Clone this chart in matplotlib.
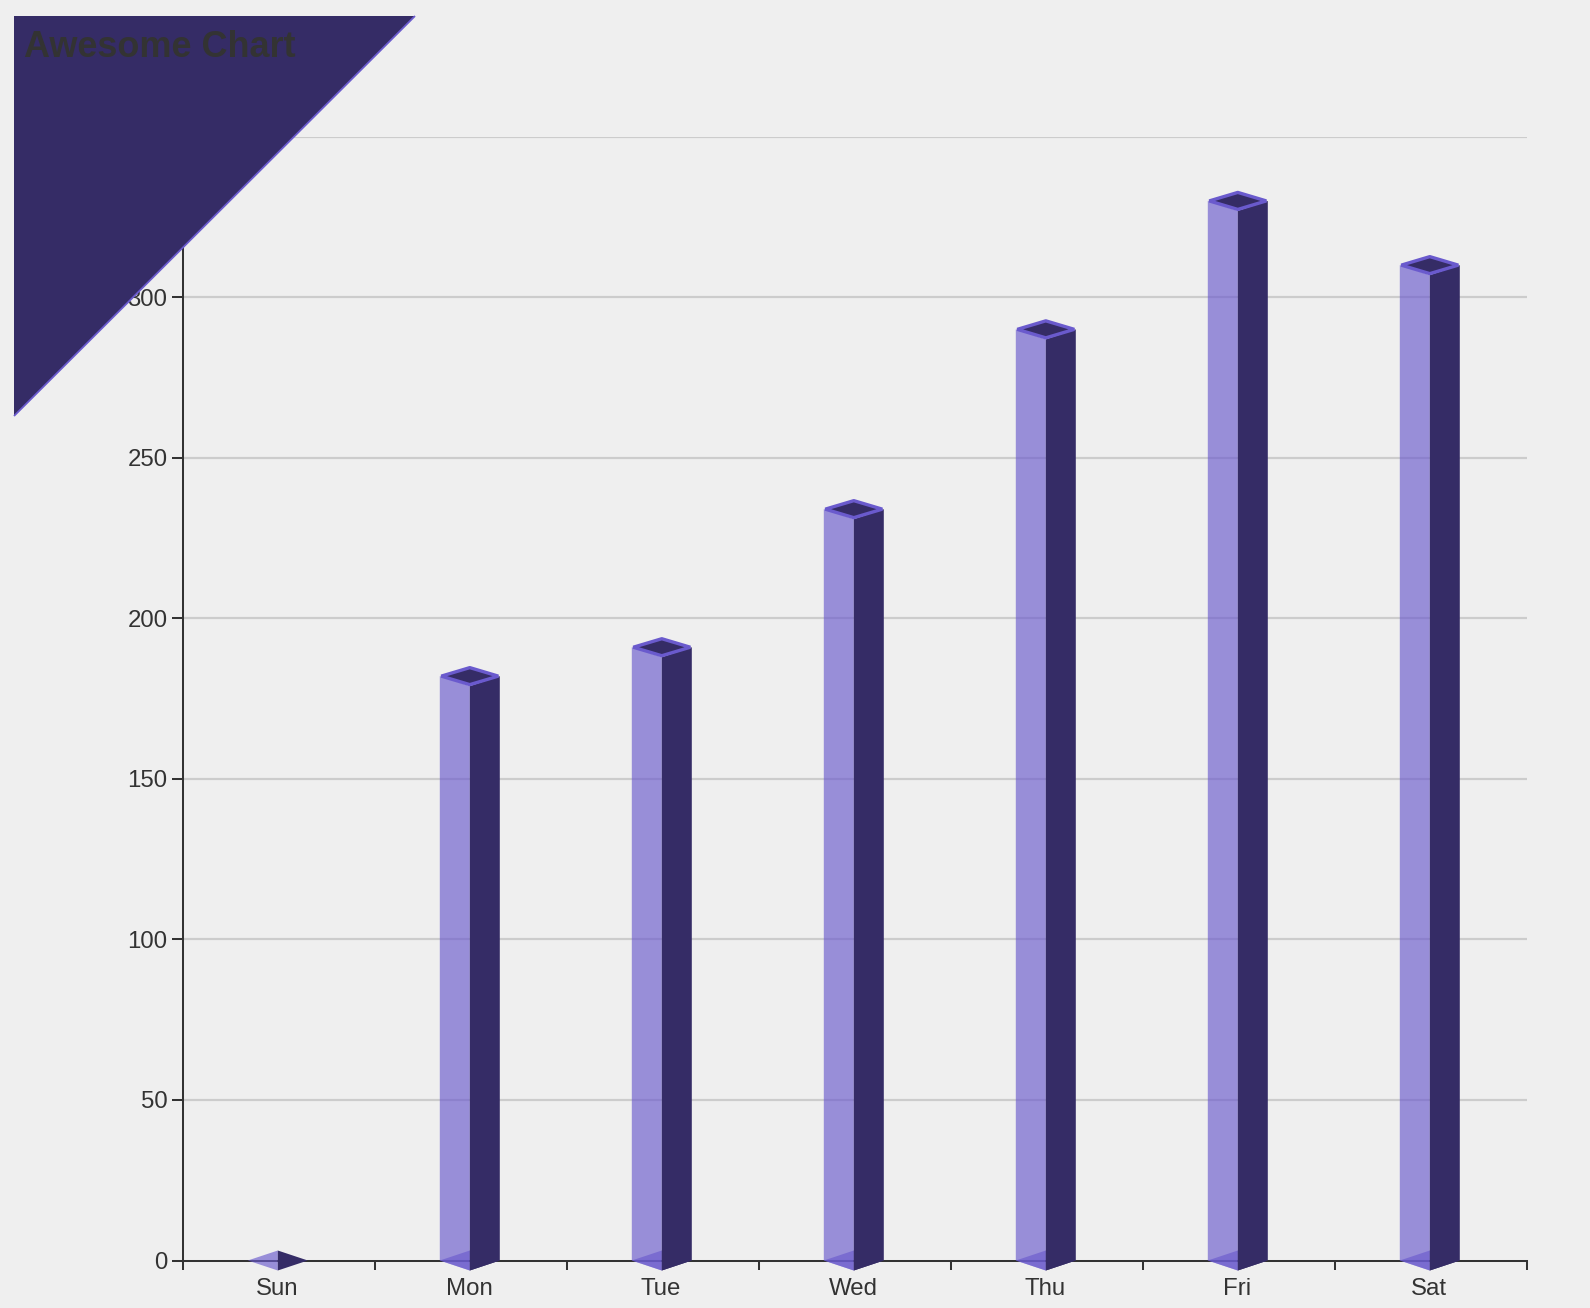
import matplotlib
matplotlib.use("Agg")
import matplotlib.pyplot as plt
from matplotlib.lines import Line2D
from matplotlib.patches import Polygon

categories = ["Sun", "Mon", "Tue", "Wed", "Thu", "Fri", "Sat"]
values = [0, 182, 191, 234, 290, 330, 310]
y_ticks = [0, 50, 100, 150, 200, 250, 300, 350]
title = "Awesome Chart"

W, H = 1590, 1308
BG = "#efefef"
TEXT = "#333333"
SLATE = "#6a5acd"
DARK = "#352c66"
GRID = "#cccccc"
plt.rcParams["font.family"] = ["Liberation Sans", "DejaVu Sans"]

fig = plt.figure(figsize=(W / 100, H / 100), dpi=100, facecolor=BG)
L, R, T, B = 183, 1527, 136.7, 1260.5
ax = fig.add_axes([L / W, 1 - B / H, (R - L) / W, (B - T) / H], facecolor=BG)
ax.set_xlim(-0.5, 6.5)
ax.set_ylim(0, 350)

px_x = 7 / (R - L)
px_y = 350 / (B - T)
hw = 30 * px_x
d = 10 * px_y
centres = [i - 1.2 * px_x for i in range(len(categories))]

for s in ("top", "right"):
    ax.spines[s].set_visible(False)
for s in ("left", "bottom"):
    ax.spines[s].set_color(TEXT)
    ax.spines[s].set_linewidth(1.45)
    ax.spines[s].set_zorder(2)

ax.set_yticks(y_ticks)
ax.set_yticklabels([str(v) for v in y_ticks])
ax.set_xticks([i - 0.5 for i in range(len(categories) + 1)])
ax.set_xticklabels([])
ax.set_xticks([c - 0.8 * px_x for c in centres], categories, minor=True)
ax.tick_params(axis="y", length=8, width=1.45, color=TEXT, labelcolor=TEXT,
               labelsize=17.3, pad=3.2)
ax.tick_params(axis="x", which="major", length=6.5, width=1.45, color=TEXT)
ax.tick_params(axis="x", which="minor", length=0, labelcolor=TEXT,
               labelsize=17.3, pad=12.5)
ax.set_axisbelow(True)
for v in y_ticks[1:]:
    ax.axhline(v, color=GRID, lw=1.6, zorder=1)


def face(points, **kw):
    ax.add_patch(Polygon(points, closed=True, clip_on=False, lw=0, **kw))


for c, v in zip(centres, values):
    # base diamond
    face([(c - hw, 0), (c, d), (c, -d)], facecolor=SLATE, alpha=0.65, zorder=3)
    face([(c + hw, 0), (c, d), (c, -d)], facecolor=DARK, zorder=3)
    if v <= 0:
        continue
    # front faces
    face([(c - hw, v), (c, v - d), (c, -d), (c - hw, 0)],
         facecolor=SLATE, alpha=0.65, zorder=4)
    face([(c + hw, v), (c, v - d), (c, -d), (c + hw, 0)],
         facecolor=DARK, zorder=4)
    # top diamond
    ax.add_patch(Polygon(
        [(c - hw * 0.95, v), (c, v + d * 0.85), (c + hw * 0.95, v), (c, v - d * 0.85)],
        closed=True, clip_on=False, facecolor=DARK, edgecolor=SLATE,
        lw=2.4, joinstyle="bevel", zorder=5))

# stray triangle in the upper left corner, drawn over the axes
corner = [(14 / W, 1 - 16 / H), (415 / W, 1 - 16 / H), (14 / W, 1 - 416 / H)]
fig.add_artist(Polygon(corner, closed=True, transform=fig.transFigure,
                       facecolor=DARK, edgecolor="none", lw=0, zorder=5))
fig.add_artist(Line2D([corner[1][0], corner[2][0]], [corner[1][1], corner[2][1]],
                      transform=fig.transFigure, color=SLATE, lw=1.3,
                      solid_capstyle="butt", zorder=5.5))
fig.text(24 / W, 1 - 57 / H, title, fontsize=25.9, fontweight="bold",
         color=TEXT, ha="left", va="baseline", zorder=6)

fig.savefig("out.png", dpi=100, facecolor=BG)
